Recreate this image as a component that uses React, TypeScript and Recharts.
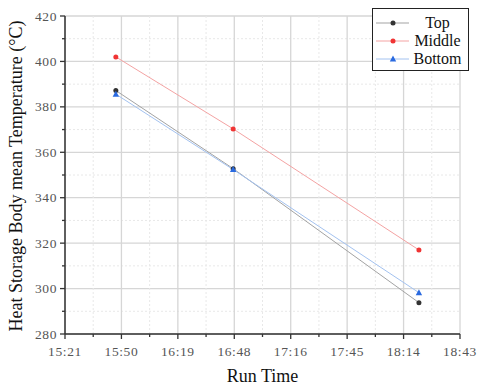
import { LineChart, Line, XAxis, YAxis, CartesianGrid, Legend } from "recharts";

const runTimes = ["15:47", "16:47", "18:22"];
const topTemps = [387.2, 352.8, 293.8];
const middleTemps = [402, 370.3, 317];
const bottomTemps = [385.6, 352.4, 298.2];

const xTickLabels = ["15:21", "15:50", "16:19", "16:48", "17:16", "17:45", "18:14", "18:43"];
const yTickValues = [280, 290, 300, 310, 320, 330, 340, 350, 360, 370, 380, 390, 400, 410, 420];

const toMinutes = (s: string) => {
  const [h, m] = s.split(":").map(Number);
  return h * 60 + m;
};

const data = runTimes.map((t, i) => ({
  time: toMinutes(t),
  top: topTemps[i],
  middle: middleTemps[i],
  bottom: bottomTemps[i],
}));

const X_MIN = toMinutes(xTickLabels[0]);
const X_MAX = toMinutes(xTickLabels[xTickLabels.length - 1]);
const xStep = (X_MAX - X_MIN) / (xTickLabels.length - 1) / 2;
const xTicks = Array.from({ length: xTickLabels.length * 2 - 1 }, (_, i) => X_MIN + i * xStep);

const FONT = "Liberation Serif, serif";
const TICK_COLOR = "#555";
const AXIS = { stroke: "#333", strokeWidth: 1.5 };

const SERIES = [
  { key: "top", name: "Top", line: "#a3a3a3", marker: "#333333", shape: "dot" },
  { key: "middle", name: "Middle", line: "#f4a3a3", marker: "#f03434", shape: "dot" },
  { key: "bottom", name: "Bottom", line: "#a3c2f0", marker: "#2a6ae0", shape: "triangle" },
];

const Marker = ({ cx, cy, color, shape }: any) => {
  if (cx == null || cy == null) return null;
  if (shape === "triangle") {
    return (
      <polygon
        points={`${cx},${cy - 3.5} ${cx - 3.2},${cy + 2.5} ${cx + 3.2},${cy + 2.5}`}
        fill={color}
      />
    );
  }
  return <circle cx={cx} cy={cy} r={2.5} fill={color} />;
};

const BottomTick = ({ x, y, index }: any) => {
  const major = index % 2 === 0;
  return (
    <g>
      <line x1={x} x2={x} y1={y} y2={y + (major ? 5 : 3)} stroke="#333" strokeWidth={1.3} />
      {major && (
        <text
          x={x}
          y={y + 22}
          textAnchor="middle"
          fontFamily={FONT}
          fontSize={13.5}
          letterSpacing={0.6}
          fill={TICK_COLOR}
        >
          {xTickLabels[index / 2]}
        </text>
      )}
    </g>
  );
};

const TopTick = ({ x, y, index }: any) => (
  <line x1={x} x2={x} y1={y} y2={y + (index % 2 === 0 ? 4 : 2)} stroke="#333" strokeWidth={1.3} />
);

const LeftTick = ({ x, y, index, payload }: any) => {
  const major = index % 2 === 0;
  return (
    <g>
      <line x1={x - (major ? 5 : 3)} x2={x} y1={y} y2={y} stroke="#333" strokeWidth={1.3} />
      {major && (
        <text
          x={x - 8}
          y={y + 4.5}
          textAnchor="end"
          fontFamily={FONT}
          fontSize={13.5}
          letterSpacing={0.6}
          fill={TICK_COLOR}
        >
          {payload.value}
        </text>
      )}
    </g>
  );
};

const RightTick = ({ x, y, index }: any) => (
  <line x1={x - (index % 2 === 0 ? 4 : 2)} x2={x} y1={y} y2={y} stroke="#333" strokeWidth={1.3} />
);

const gridLine = (props: any) => {
  const major = props.index % 2 === 0;
  return (
    <line
      key={props.key}
      x1={props.x1}
      y1={props.y1}
      x2={props.x2}
      y2={props.y2}
      stroke={major ? "#d6d6d6" : "#e8e8e8"}
      strokeWidth={major ? 1.3 : 1}
      strokeDasharray={major ? undefined : "2 2"}
    />
  );
};

const LegendBox = () => (
  <div
    style={{
      width: 97,
      height: 63,
      border: "1.5px solid #222",
      background: "#fff",
      boxSizing: "border-box",
      fontFamily: FONT,
      fontSize: 16,
      color: "#111",
      paddingTop: 5,
    }}
  >
    {SERIES.map((s) => (
      <div key={s.key} style={{ display: "flex", alignItems: "center", height: 18 }}>
        <svg width={40} height={12}>
          <line x1={3} x2={36} y1={6} y2={6} stroke={s.line} strokeWidth={1} />
          <Marker cx={20} cy={6} color={s.marker} shape={s.shape} />
        </svg>
        <span style={{ flex: 1, textAlign: "center", paddingRight: 6 }}>{s.name}</span>
      </div>
    ))}
  </div>
);

export default function App() {
  return (
    <div style={{ position: "absolute", left: 0, top: 0, width: 480, height: 391, background: "#fff" }}>
      <LineChart width={480} height={391} data={data} margin={{ top: 16, right: 20, bottom: 0, left: 0 }}>
        <CartesianGrid horizontal={gridLine} vertical={gridLine} />
        <XAxis
          dataKey="time"
          type="number"
          domain={[X_MIN, X_MAX]}
          ticks={xTicks}
          interval={0}
          height={57}
          tickSize={0}
          tickMargin={0}
          tickLine={false}
          tick={<BottomTick />}
          axisLine={AXIS}
          label={{
            value: "Run Time",
            position: "insideBottom",
            offset: 9,
            style: { fontFamily: FONT, fontSize: 18, fill: "#111" },
          }}
        />
        <XAxis
          xAxisId="t"
          orientation="top"
          type="number"
          domain={[X_MIN, X_MAX]}
          ticks={xTicks}
          interval={0}
          height={0}
          tickSize={0}
          tickMargin={0}
          tickLine={false}
          tick={<TopTick />}
          axisLine={AXIS}
        />
        <YAxis
          type="number"
          domain={[280, 420]}
          ticks={yTickValues}
          interval={0}
          width={65}
          tickSize={0}
          tickMargin={0}
          tickLine={false}
          tick={<LeftTick />}
          axisLine={AXIS}
          label={{
            content: () => (
              <text
                x={22}
                y={176}
                transform="rotate(-90 22 176)"
                textAnchor="middle"
                fontFamily={FONT}
                fontSize={18}
                fill="#111"
              >
                Heat Storage Body mean Temperature (°C)
              </text>
            ),
          }}
        />
        <YAxis
          yAxisId="r"
          orientation="right"
          type="number"
          domain={[280, 420]}
          ticks={yTickValues}
          interval={0}
          width={0}
          tickSize={0}
          tickMargin={0}
          tickLine={false}
          tick={<RightTick />}
          axisLine={AXIS}
        />
        <Legend
          layout="vertical"
          align="center"
          verticalAlign="middle"
          content={<LegendBox />}
          wrapperStyle={{ position: "absolute", left: 372, top: 8, width: 97, height: 63 }}
        />
        {SERIES.map((s) => (
          <Line
            key={s.key}
            dataKey={s.key}
            name={s.name}
            stroke={s.line}
            strokeWidth={1}
            dot={(p: any) => <Marker key={`${s.key}-${p.index}`} cx={p.cx} cy={p.cy} color={s.marker} shape={s.shape} />}
            isAnimationActive={false}
          />
        ))}
      </LineChart>
    </div>
  );
}
